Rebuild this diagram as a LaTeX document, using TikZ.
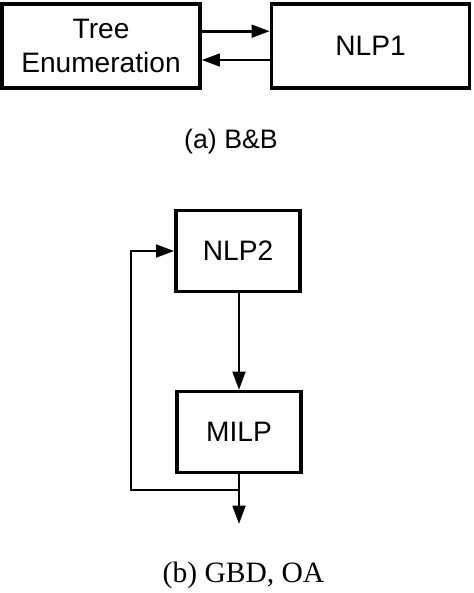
\documentclass[tikz,border=0pt]{standalone}
\usepackage{fontspec}
\setmainfont{Liberation Serif}
\newfontfamily\boxfont{Liberation Sans}
\usepackage{tikz}
\usetikzlibrary{positioning, arrows.meta, calc}

\begin{document}
\begin{tikzpicture}[
  x=0.025cm, y=-0.025cm,
  box/.style={draw, line width=2.4pt, minimum width=#1, minimum height=2.1cm, align=center,
    font=\boxfont\fontsize{20}{24}\selectfont, inner sep=0pt},
  box/.default=4.95cm,
  arr/.style={-{Triangle[length=13pt, width=9pt]}, line width=2pt},
  captxt/.style={anchor=base, inner sep=0pt, font=\fontsize{#1}{24}\selectfont},
  captxt/.default=20
]
\useasboundingbox (0,0) rectangle (474,593);

% ── (a) B&B ──
\node[box] (tree) at (101,46) {Tree\\Enumeration};
\node[box] (nlp1) at (370.5,46) {NLP1};
\node[captxt=19, font=\boxfont\fontsize{19}{24}\selectfont] (capa) at (231,148) {(a) B\&B};

% ── (b) GBD, OA ──
\node[box=3.1cm, minimum height=2.02cm] (nlp2) at (238,251) {NLP2};
\node[box=3.1cm, minimum height=2.02cm] (milp) at (239,432) {MILP};
\node[captxt=21] (capb) at (243.5,582) {(b) GBD, OA};

\coordinate (jn) at (239,490);
\coordinate (lp) at (131,490);
\coordinate (out) at (239,524);

% ═══ ARROWS ═══
\draw[arr] ([yshift=0.37cm]tree.east) -- ([yshift=0.37cm]nlp1.west);
\draw[arr] ([yshift=-0.35cm]nlp1.west) -- ([yshift=-0.35cm]tree.east);

\draw[arr] (nlp2.south -| milp.north) -- (milp.north);
\draw[arr] (milp.south) -- (out);
\draw[arr, line join=miter] (jn) -- (lp) |- (nlp2.west);

\end{tikzpicture}
\end{document}
